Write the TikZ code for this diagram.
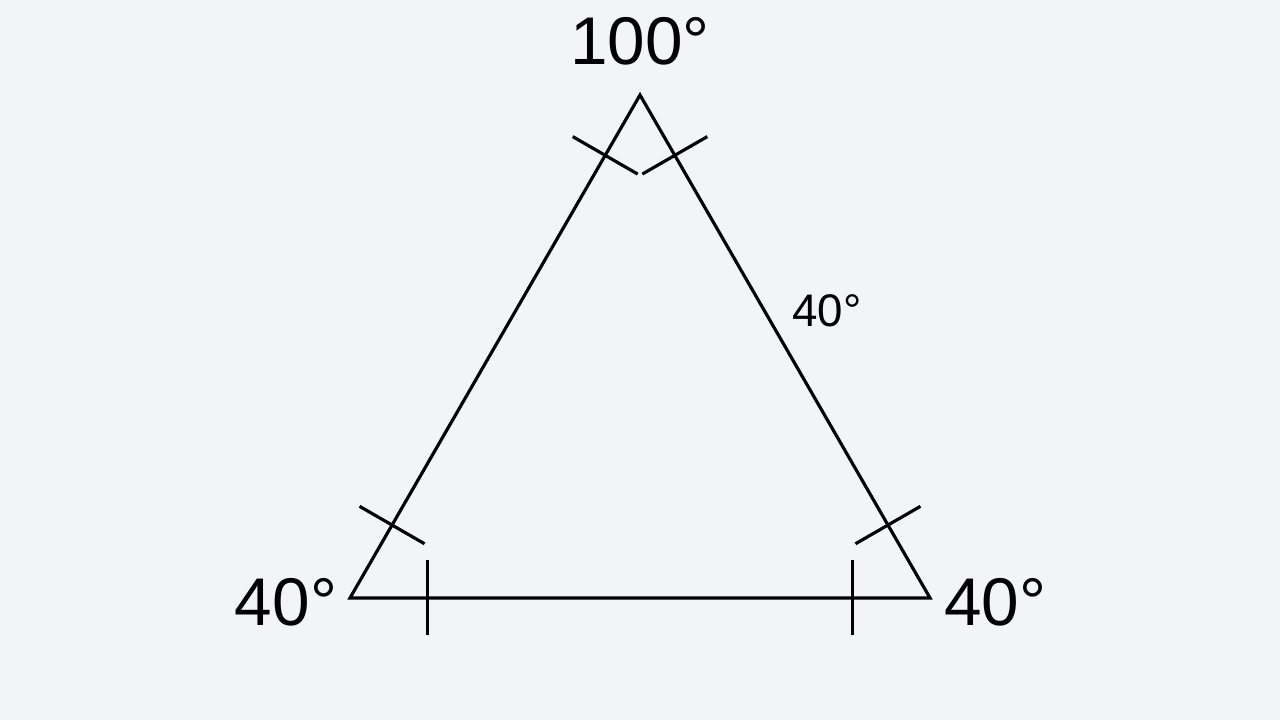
\documentclass[tikz,border=0pt]{standalone}
\usepackage{fontspec}
\setmainfont{Liberation Sans}
\usetikzlibrary{calc}
\definecolor{paper}{HTML}{F3F4F6}
\tikzset{
  bigangle/.style={font=\fontsize{19.2}{23}\selectfont, inner sep=0pt},
  smallangle/.style={font=\fontsize{13}{15}\selectfont, inner sep=0pt}
}

\begin{document}
\begin{tikzpicture}[line width=0.9pt]
    \fill[paper] (0,0) rectangle (12.8,7.2);
    \useasboundingbox (0,0) rectangle (12.8,7.2);
    \coordinate (A) at (6.40,6.25);
    \coordinate (B) at (3.50,1.22);
    \coordinate (C) at (9.30,1.22);
    \draw (A) -- (B) -- (C) -- cycle;
    % tick marks across the sides
    \foreach \from/\to/\pos in {A/B/0.12,A/C/0.12,B/A/0.145,C/A/0.145,B/C/0.134,C/B/0.134}
    {
      \coordinate (t) at ($(\from)!\pos!(\to)$);
      \draw ($(t)!0.375cm!90:(\to)$) -- ($(t)!0.375cm!-90:(\to)$);
    }
    \node[bigangle] (angA) at (6.40,6.79) {100°};
    \node[bigangle] (angB) at (2.86,1.18) {40°};
    \node[bigangle] (angC) at (9.95,1.18) {40°};
    \node[smallangle] (angAC) at (8.27,4.09) {40°};
  \end{tikzpicture}
\end{document}
